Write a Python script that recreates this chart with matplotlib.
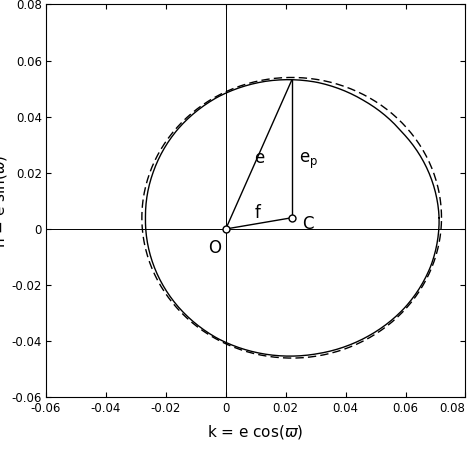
import numpy as np
import matplotlib
matplotlib.use("Agg")
import matplotlib.pyplot as plt

ticks = [-0.06, -0.04, -0.02, 0, 0.02, 0.04, 0.06, 0.08]
tick_labels = ["-0.06", "-0.04", "-0.02", "0", "0.02", "0.04", "0.06", "0.08"]
# dashed circle: center and radius
circ_center = (0.022, 0.004)
circ_radius = 0.050
# solid curve: polar samples about the circle center (angle deg, radius)
solid_ang = [0, 20, 40, 60, 80, 90, 100, 120, 140, 160, 180, 200, 220, 240, 260, 280, 300, 320, 340, 360]
solid_rad = [0.0492, 0.0485, 0.0478, 0.0482, 0.0490, 0.0492, 0.0494, 0.0496, 0.0494, 0.0490, 0.0488, 0.0491, 0.0494, 0.0496, 0.0494, 0.0492, 0.0493, 0.0495, 0.0495, 0.0492]
O = (0.0, 0.0)
C = (0.022, 0.004)
P = (0.022, 0.053)

fig = plt.figure(figsize=(4.74, 4.49), dpi=100)
ax = fig.add_axes([0.097, 0.115, 0.885, 0.875])

t = np.linspace(0, 2*np.pi, 400)
ax.plot(circ_center[0] + circ_radius*np.cos(t), circ_center[1] + circ_radius*np.sin(t),
        'k--', lw=1.0, dashes=(6, 3))
a = np.deg2rad(np.array(solid_ang, float))
r = np.array(solid_rad)
tt = np.linspace(0, 2*np.pi, 400)
rr = np.interp(tt, a, r)
ax.plot(circ_center[0] + rr*np.cos(tt), circ_center[1] + rr*np.sin(tt), 'k-', lw=1.0)

ax.axhline(0, color='k', lw=0.7)
ax.axvline(0, color='k', lw=0.7)
ax.plot([O[0], P[0]], [O[1], P[1]], 'k-', lw=1.0)
ax.plot([C[0], P[0]], [C[1], P[1]], 'k-', lw=1.0)
ax.plot([O[0], C[0]], [O[1], C[1]], 'k-', lw=1.0)
ax.plot([O[0], C[0]], [O[1], C[1]], 'o', mfc='white', mec='k', ms=5, mew=1.0)

fs = 12
ax.text(0.0095, 0.0235, "e", fontsize=fs)
ax.text(0.0245, 0.0235, r"e$_\mathregular{p}$", fontsize=fs)
ax.text(0.0095, 0.004, "f", fontsize=fs)
ax.text(-0.006, -0.0085, "O", fontsize=fs)
ax.text(0.0255, 0.0, "C", fontsize=fs)

ax.set_xlim(-0.06, 0.08)
ax.set_ylim(-0.06, 0.08)
ax.set_xticks(ticks)
ax.set_xticklabels(tick_labels)
ax.set_yticks(ticks)
ax.set_yticklabels(tick_labels)
ax.tick_params(direction='in', labelsize=8.5, top=True, right=True, pad=3)
ax.set_xlabel(r"k = e cos($\varpi$)", fontsize=11, labelpad=6)
ax.set_ylabel(r"h = e sin($\varpi$)", fontsize=11, labelpad=2)
ax.xaxis.get_majorticklabels()[-1].set_horizontalalignment('right')
fig.savefig("out.png", dpi=100)
